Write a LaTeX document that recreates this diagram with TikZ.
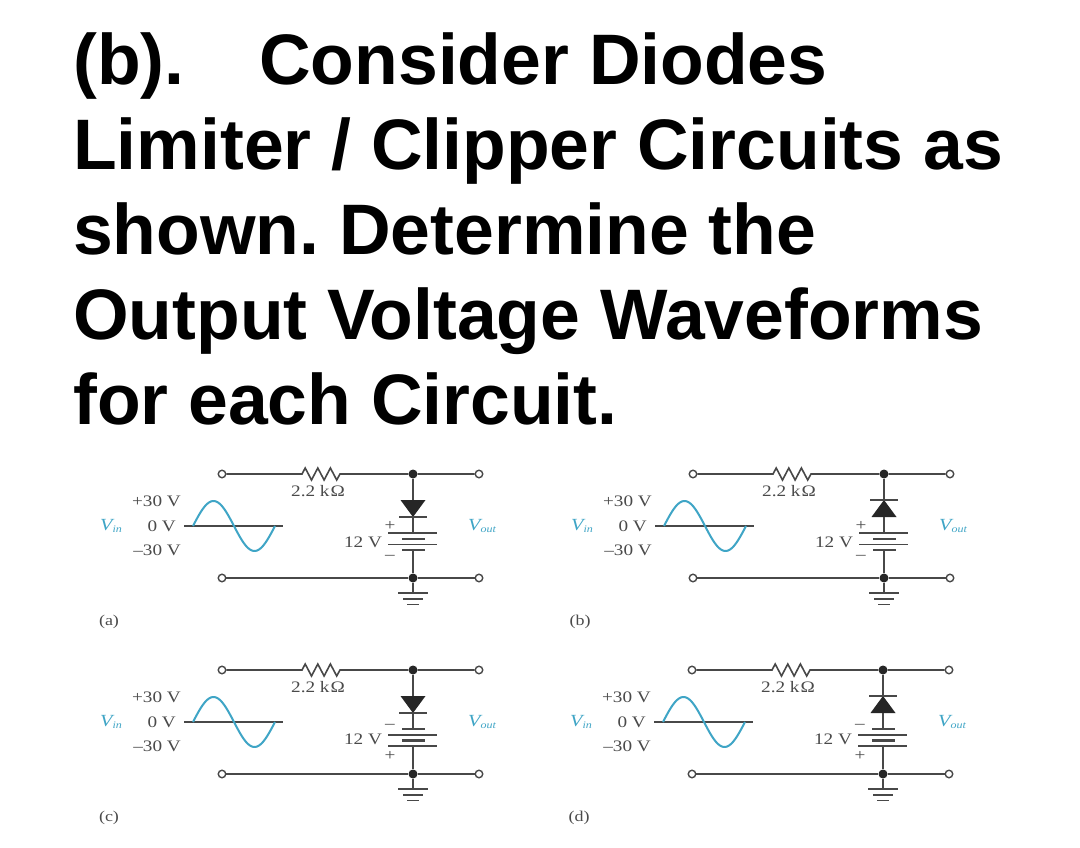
\documentclass[tikz,border=0pt]{standalone}
\usepackage{fontspec}
\setmainfont{Liberation Sans}
\newfontfamily\circfont[FakeStretch=1.2]{Liberation Serif}
\definecolor{wirec}{HTML}{484848}
\definecolor{sinec}{HTML}{3FA5C6}
\definecolor{textc}{HTML}{4A4A4A}
\tikzset{
  wire/.style={draw=wirec,line width=1.6pt},
  term/.style={circle,draw=wirec,line width=1.4pt,fill=white,minimum size=7.5pt,inner sep=0pt},
  dotj/.style={circle,fill=black!85,minimum size=9pt,inner sep=0pt},
  lab/.style={text=textc,font=\circfont\fontsize{16}{18}\selectfont,inner sep=0pt},
  vlab/.style={text=sinec,font=\circfont\fontsize{17}{19}\selectfont\itshape,inner sep=0pt},
  tag/.style={text=textc,font=\circfont\fontsize{15}{17}\selectfont,inner sep=0pt},
  sinecurve/.style={draw=sinec,line width=2pt},
}
\newcommand{\vsub}[1]{\textit{V}\raisebox{-2pt}{\fontsize{10}{10}\selectfont\textit{#1}}}
% args: name prefix, dx, dy, tag, diode (1 down / 0 up), battery (1 plus on top / 0 minus on top)
\newcommand{\clipcircuit}[6]{%
\begin{scope}[shift={(#2,#3)},name prefix=#1-]
  \node[term] (ti) at (222,474) {};
  \node[term] (bi) at (222,578) {};
  \node[term] (to) at (479,474) {};
  \node[term] (bo) at (479,578) {};
  \node[dotj] (jt) at (413,474) {};
  \node[dotj] (jb) at (413,578) {};
  \coordinate (rl) at (302,474);
  \coordinate (rr) at (340,474);
  \coordinate (gnd) at (413,593);
  \path[wire] (ti) -- (rl) -- ++(3.2,-6) -- ++(6.3,12) -- ++(6.3,-12) -- ++(6.3,12) -- ++(6.3,-12) -- ++(6.3,12) -- (rr) -- (jt) -- (to);
  \path[wire] (bi) -- (jb) -- (bo);
  \ifnum#5=1
    \coordinate (dtop) at (413,500);
    \coordinate (dbot) at (413,517);
    \fill[black!85] (400.5,500) -- (425.5,500) -- (dbot) -- cycle;
    \path[wire,line width=1.7pt] (399,517) -- (427,517);
  \else
    \coordinate (dtop) at (413,500);
    \coordinate (dbot) at (413,517);
    \fill[black!85] (400.5,517) -- (425.5,517) -- (dtop) -- cycle;
    \path[wire,line width=1.7pt] (399,500) -- (427,500);
  \fi
  \ifnum#6=1
    \coordinate (btop) at (413,533);
    \coordinate (bbot) at (413,550);
    \path[wire,line width=1.7pt] (388,533) -- (437,533);
    \path[wire,line width=2.4pt] (402,539) -- (425,539);
    \path[wire,line width=1.7pt] (388,544.5) -- (437,544.5);
    \path[wire,line width=2.4pt] (402,550) -- (425,550);
    \node[lab] (bp) at (390,526) {+};
    \node[lab] (bm) at (390,557) {–};
    \node[lab] (bv) at (363,542) {12 V};
  \else
    \coordinate (btop) at (413,533);
    \coordinate (bbot) at (413,550);
    \path[wire,line width=2.4pt] (402,533) -- (425,533);
    \path[wire,line width=1.7pt] (388,539) -- (437,539);
    \path[wire,line width=2.4pt] (402,544.5) -- (425,544.5);
    \path[wire,line width=1.7pt] (388,550) -- (437,550);
    \node[lab] (bm) at (390,530) {–};
    \node[lab] (bp) at (390,560) {+};
    \node[lab] (bv) at (363,543) {12 V};
  \fi
  \path[wire] (jt) -- (dtop) (dbot) -- (btop) (bbot) -- (jb) -- (gnd);
  \path[wire,line width=1.7pt] (398,593) -- (428,593) (403,599) -- (423,599) (407,604.5) -- (419,604.5);
  \coordinate (al) at (184,526);
  \coordinate (ar) at (283,526);
  \path[wire] (al) -- (ar);
  \draw[sinecurve,smooth,samples=60,domain=0:360] plot ({193+\x/360*82},{526-25*sin(\x)});
  \node[lab] (r) at (318,491) {2.2 k$\mkern1mu$Ω};
  \node[lab,anchor=east] (p30) at (181,501) {+30 V};
  \node[lab,anchor=east] (z0) at (176,526) {0 V};
  \node[lab,anchor=east] (m30) at (181,550) {–30 V};
  \node[vlab] (vin) at (111,526) {\vsub{in}};
  \node[vlab] (vout) at (482,526) {\vsub{out}};
  \node[tag] (tg) at (109,622) {(#4)};
\end{scope}}
\begin{document}
\begin{tikzpicture}[x=1pt,y=-1pt]
\useasboundingbox (0,0) rectangle (1080,848);
\fill[white] (0,0) rectangle (1080,848);
\node[anchor=north west,align=left,inner sep=0pt,text=black,font=\fontsize{71.5}{85}\selectfont\bfseries] (title) at (73,32)
  {\frenchspacing (b).\hspace{75pt}Consider Diodes\\\frenchspacing Limiter / Clipper Circuits as\\\frenchspacing shown. Determine the\\Output Voltage Waveforms\\for each Circuit.};
\clipcircuit{a}{0}{0}{a}{1}{1}
\clipcircuit{b}{471}{0}{b}{0}{1}
\clipcircuit{c}{0}{196}{c}{1}{0}
\clipcircuit{d}{470}{196}{d}{0}{0}
\end{tikzpicture}
\end{document}
